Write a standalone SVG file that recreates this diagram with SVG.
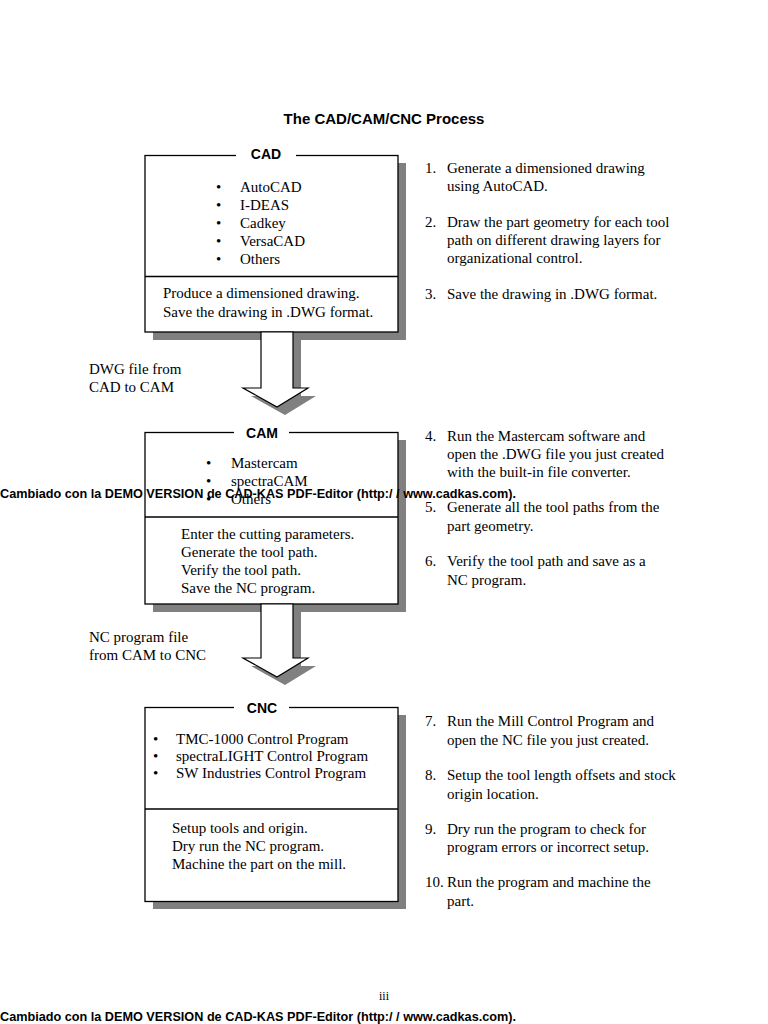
<svg xmlns="http://www.w3.org/2000/svg" width="768" height="1024" viewBox="0 0 768 1024">
<style>
.t{font-family:"Liberation Serif","Times New Roman",serif;font-size:15px;fill:#000}
.h{font-family:"Liberation Sans",Arial,sans-serif;font-size:14px;font-weight:bold;fill:#000}
.ti{font-family:"Liberation Sans",Arial,sans-serif;font-size:15px;font-weight:bold;fill:#000}
.w{font-family:"Liberation Sans",Arial,sans-serif;font-size:13px;font-weight:bold;fill:#000}
.box{fill:#fff;stroke:#000;stroke-width:1.3}
.sh{fill:#808080}
.ln{stroke:#000;stroke-width:1.3;fill:none}
.arr{fill:#fff;stroke:#000;stroke-width:1.2}
</style>
<rect width="768" height="1024" fill="#fff"/>
<text class="ti" x="384" y="124" text-anchor="middle">The CAD/CAM/CNC Process</text>

<g id="shadows">
<rect class="sh" x="153" y="163" width="253" height="177"/>
<rect class="sh" x="153" y="440" width="253" height="172"/>
<rect class="sh" x="153" y="715" width="253" height="194"/>
<polygon class="sh" points="269,340 301,340 301,396 316,396 285,415 251,396 269,396"/>
<polygon class="sh" points="269,612 301,612 301,666 316,666 285,685 251,666 269,666"/>
</g>

<g id="cad">
<rect class="box" x="145" y="155.5" width="253" height="176.5"/>
<line x1="236" y1="155.5" x2="296" y2="155.5" stroke="#fff" stroke-width="3"/>
<text class="h" x="266" y="159" text-anchor="middle">CAD</text>
<line class="ln" x1="145" y1="276.5" x2="398" y2="276.5"/>
<g class="t">
<text x="216" y="192">•</text><text x="240" y="192">AutoCAD</text>
<text x="216" y="210">•</text><text x="240" y="210">I-DEAS</text>
<text x="216" y="228">•</text><text x="240" y="228">Cadkey</text>
<text x="216" y="246">•</text><text x="240" y="246">VersaCAD</text>
<text x="216" y="264">•</text><text x="240" y="264">Others</text>
<text x="163" y="298">Produce a dimensioned drawing.</text>
<text x="163" y="317">Save the drawing in .DWG format.</text>
</g>
</g>

<g id="cam">
<rect class="box" x="145" y="432.5" width="253" height="171.5"/>
<line x1="234" y1="432.5" x2="289" y2="432.5" stroke="#fff" stroke-width="3"/>
<text class="h" x="262" y="438" text-anchor="middle">CAM</text>
<line class="ln" x1="145" y1="517" x2="398" y2="517"/>
<g class="t">
<text x="206" y="468">•</text><text x="231" y="468">Mastercam</text>
<text x="206" y="486">•</text><text x="231" y="486">spectraCAM</text>
<text x="206" y="504">•</text><text x="231" y="504">Others</text>
<text x="181" y="539">Enter the cutting parameters.</text>
<text x="181" y="557">Generate the tool path.</text>
<text x="181" y="575">Verify the tool path.</text>
<text x="181" y="593">Save the NC program.</text>
</g>
</g>

<g id="cnc">
<rect class="box" x="145" y="707.5" width="253" height="194"/>
<line x1="234" y1="707.5" x2="289" y2="707.5" stroke="#fff" stroke-width="3"/>
<text class="h" x="262" y="713" text-anchor="middle">CNC</text>
<line class="ln" x1="145" y1="809" x2="398" y2="809"/>
<g class="t">
<text x="153" y="744">•</text><text x="176" y="744">TMC-1000 Control Program</text>
<text x="153" y="761">•</text><text x="176" y="761">spectraLIGHT Control Program</text>
<text x="153" y="778">•</text><text x="176" y="778">SW Industries Control Program</text>
<text x="172" y="833">Setup tools and origin.</text>
<text x="172" y="851">Dry run the NC program.</text>
<text x="172" y="869">Machine the part on the mill.</text>
</g>
</g>

<g id="connectors">
<polygon class="arr" points="261,332 293,332 293,388 308,388 277,407 243,388 261,388"/>
<polygon class="arr" points="261,604 293,604 293,658 308,658 277,677 243,658 261,658"/>
<text class="t" x="89" y="374">DWG file from</text>
<text class="t" x="89" y="392">CAD to CAM</text>
<text class="t" x="89" y="642">NC program file</text>
<text class="t" x="89" y="660">from CAM to CNC</text>
</g>

<g id="steps" class="t">
<text x="425" y="173">1.</text><text x="447" y="173">Generate a dimensioned drawing</text>
<text x="447" y="191">using AutoCAD.</text>
<text x="425" y="227">2.</text><text x="447" y="227">Draw the part geometry for each tool</text>
<text x="447" y="245">path on different drawing layers for</text>
<text x="447" y="263">organizational control.</text>
<text x="425" y="299">3.</text><text x="447" y="299">Save the drawing in .DWG format.</text>
<text x="425" y="441">4.</text><text x="447" y="441">Run the Mastercam software and</text>
<text x="447" y="459">open the .DWG file you just created</text>
<text x="447" y="477">with the built-in file converter.</text>
<text x="425" y="512">5.</text><text x="447" y="512">Generate all the tool paths from the</text>
<text x="447" y="531">part geometry.</text>
<text x="425" y="566">6.</text><text x="447" y="566">Verify the tool path and save as a</text>
<text x="447" y="585">NC program.</text>
<text x="425" y="726">7.</text><text x="447" y="726">Run the Mill Control Program and</text>
<text x="447" y="745">open the NC file you just created.</text>
<text x="425" y="780">8.</text><text x="447" y="780">Setup the tool length offsets and stock</text>
<text x="447" y="799">origin location.</text>
<text x="425" y="834">9.</text><text x="447" y="834">Dry run the program to check for</text>
<text x="447" y="852">program errors or incorrect setup.</text>
<text x="425" y="887">10.</text><text x="447" y="887">Run the program and machine the</text>
<text x="447" y="906">part.</text>
</g>

<text class="w" x="0" y="498" textLength="516" lengthAdjust="spacingAndGlyphs">Cambiado con la DEMO VERSION de CAD-KAS PDF-Editor (http:/ / www.cadkas.com).</text>
<text class="t" x="384" y="1000" text-anchor="middle" style="font-size:12px">iii</text>
<text class="w" x="0" y="1021" textLength="516" lengthAdjust="spacingAndGlyphs">Cambiado con la DEMO VERSION de CAD-KAS PDF-Editor (http:/ / www.cadkas.com).</text>
</svg>
